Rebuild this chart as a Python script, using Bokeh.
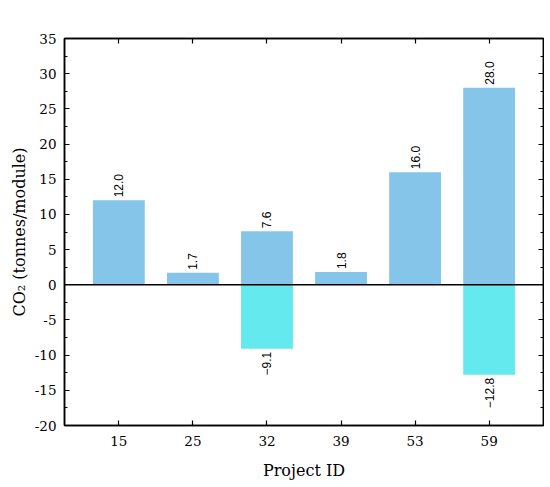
from math import pi
from bokeh.plotting import figure
from bokeh.models import (ColumnDataSource, Range1d, LinearAxis, FixedTicker,
                          Span, Legend, LegendItem, SingleIntervalTicker)
from bokeh.core.properties import value
from bokeh.embed import file_html
from bokeh.resources import INLINE

projects = ["15", "25", "32", "39", "53", "59"]
saved = [12.0, 1.7, 7.6, 1.8, 16.0, 28.0]
avoid = [0.0, 0.0, -9.1, 0.0, 0.0, -12.8]
y_ticks = [-20, -15, -10, -5, 0, 5, 10, 15, 20, 25, 30, 35]
y_tick_labels = ["-20", "-15", "-10", "-5", "0", "5", "10", "15", "20", "25", "30", "35"]

saved_color = "#85C5EA"
avoid_color = "#63E9EE"
serif = "DejaVu Serif"

n = len(projects)
xs = list(range(n))
half = 0.234

p = figure(x_range=Range1d(-0.5 - half, n - 0.5 + half),
           y_range=Range1d(y_ticks[0], y_ticks[-1]),
           width=544, height=484,
           output_backend="svg", toolbar_location=None,
           min_border_left=64, min_border_right=1, min_border_top=38, min_border_bottom=59)

src_s = ColumnDataSource(dict(x=xs, top=saved,
                              label=[f"{v:.1f}" for v in saved]))
ax = [x for x, v in zip(xs, avoid) if v != 0]
av = [v for v in avoid if v != 0]
src_a = ColumnDataSource(dict(x=ax, top=av,
                              label=[f"{v:.1f}".replace("-", "\u2212") for v in av]))

r1 = p.vbar(x="x", top="top", bottom=0, width=0.70, source=src_s,
            fill_color=saved_color, line_color=None)
r2 = p.vbar(x="x", top="top", bottom=0, width=0.70, source=src_a,
            fill_color=avoid_color, line_color=None)

p.text(x="x", y="top", text="label", source=src_s, angle=pi/2,
       text_align="left", text_baseline="middle", x_offset=0, y_offset=-3,
       text_font=value("Liberation Sans"), text_font_size="12px", text_color="black")
p.text(x="x", y="top", text="label", source=src_a, angle=pi/2,
       text_align="right", text_baseline="middle", x_offset=0, y_offset=3,
       text_font=value("Liberation Sans"), text_font_size="12px", text_color="black")

p.add_layout(Span(location=0, dimension="width", line_color="black", line_width=1.5))

p.grid.visible = False
p.outline_line_color = "black"
p.outline_line_width = 1.5

def style(axis):
    axis.axis_line_width = 1.5
    axis.axis_line_color = "black"
    axis.major_tick_in = 5
    axis.major_tick_out = 0
    axis.minor_tick_in = 3
    axis.minor_tick_out = 0
    axis.major_tick_line_width = 1.2
    axis.minor_tick_line_width = 1.2
    axis.major_label_text_font = serif
    axis.major_label_text_font_size = "13.5px"
    axis.major_label_text_color = "black"
    axis.axis_label_text_font = serif
    axis.axis_label_text_font_size = "16px"
    axis.axis_label_text_font_style = "normal"
    axis.axis_label_text_color = "black"

xa = p.xaxis[0]
style(xa)
xa.ticker = FixedTicker(ticks=xs, minor_ticks=[])
xa.major_label_overrides = dict(zip(xs, projects))
xa.axis_label = "Project ID"
xa.major_label_standoff = 10
xa.axis_label_standoff = 12

ya = p.yaxis[0]
style(ya)
ya.axis_label = "CO\u2082 (tonnes/module)"
ya.ticker = SingleIntervalTicker(interval=5, num_minor_ticks=2)
ya.major_label_overrides = dict(zip(y_ticks, y_tick_labels))
ya.major_label_standoff = 8
ya.axis_label_standoff = 3

ry = LinearAxis(ticker=SingleIntervalTicker(interval=5, num_minor_ticks=2),
                major_label_overrides={t: "" for t in y_ticks},
                major_label_standoff=0)
style(ry)
p.add_layout(ry, "right")

tx = LinearAxis(ticker=FixedTicker(ticks=xs, minor_ticks=[]),
                major_label_overrides={t: "" for t in xs},
                major_label_standoff=0)
style(tx)
p.add_layout(tx, "above")

legend = Legend(items=[LegendItem(label="Saved CO\u2082", renderers=[r1]),
                       LegendItem(label="Avoid CO\u2082", renderers=[r2])],
                orientation="horizontal", location=(40, 396),
                glyph_width=37, glyph_height=17, label_standoff=10, spacing=77,
                label_text_font=serif, label_text_font_size="16px",
                border_line_alpha=0, background_fill_alpha=0, margin=0, padding=2)
p.add_layout(legend)

open("out.html", "w").write(file_html(p, INLINE))
